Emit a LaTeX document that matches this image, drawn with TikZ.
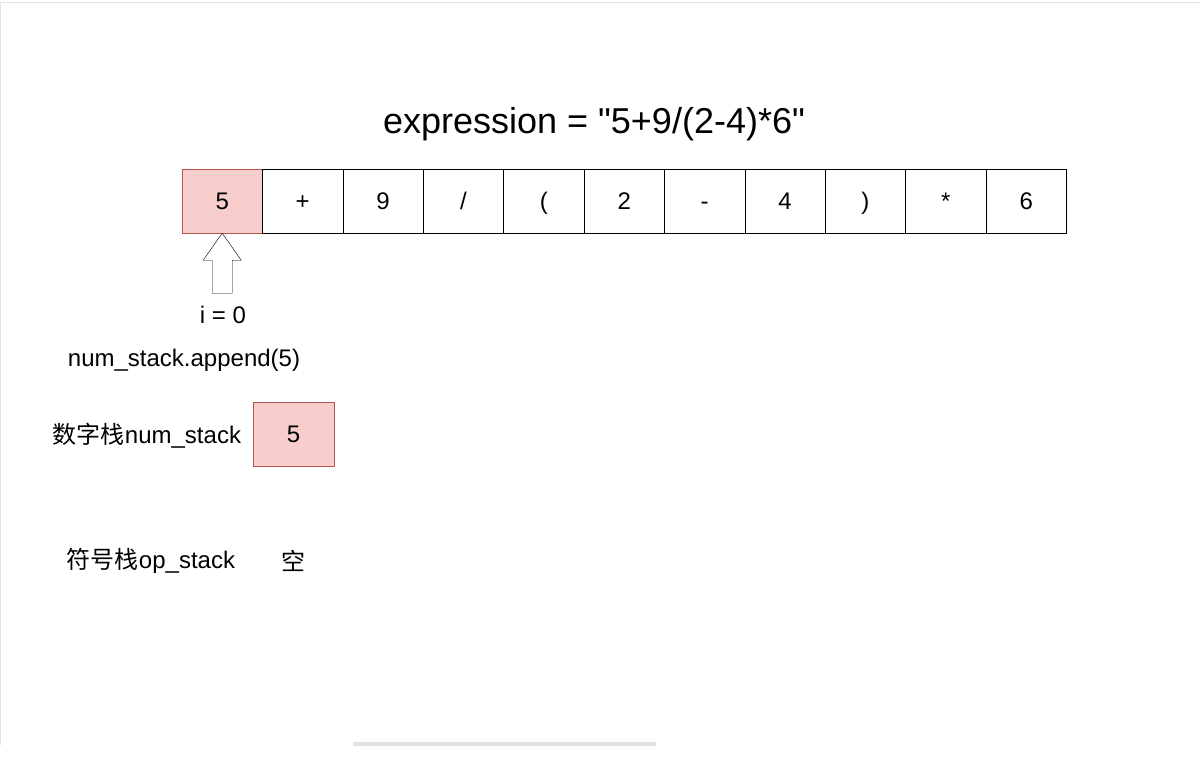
\documentclass[tikz,border=0pt]{standalone}
\usepackage{fontspec}
\setmainfont{Liberation Sans}[Ligatures=TeXOff]
\newfontfamily\cjk{Noto Sans CJK SC}
\definecolor{cellred}{HTML}{F8CECC}
\definecolor{edgered}{HTML}{B85450}
\definecolor{framegray}{HTML}{E2E2E2}

\begin{document}
\begin{tikzpicture}[x=1pt,y=-1pt,font=\fontsize{24}{28}\selectfont]
  \tikzset{cell/.style={draw,minimum width=80.4pt,minimum height=64pt,inner sep=0pt,
                        text height=17pt,text depth=0pt},
           hot/.style={cell,fill=cellred,draw=edgered}}
  \useasboundingbox (0,0) rectangle (1200,763);
  % window frame of the screenshot
  \draw[framegray] (0,2) -- (1200,2);
  \draw[framegray] (0.5,2) -- (0.5,745);
  \fill[framegray] (353,742) rectangle (656,746);
  \node (title) at (594,124) {\fontsize{36}{40}\selectfont expression = "5+9/(2-4)*6"};
  \node[hot]  (c0)  at (222.2,201) {5};
  \node[cell] (c1)  at (302.6,201) {+};
  \node[cell] (c2)  at (383.0,201) {9};
  \node[cell] (c3)  at (463.4,201) {/};
  \node[cell] (c4)  at (543.8,201) {(};
  \node[cell] (c5)  at (624.2,201) {2};
  \node[cell] (c6)  at (704.6,201) {-};
  \node[cell] (c7)  at (785.0,201) {4};
  \node[cell] (c8)  at (865.4,201) {)};
  \node[cell] (c9)  at (945.8,201) {*};
  \node[cell] (c10) at (1026.2,201) {6};
  % pointer arrow under the first cell
  \coordinate (tip) at (c0.south);
  \draw[fill=white] (tip) -- ++(19,27) -- ++(-9,0) -- ++(0,33) -- ++(-20,0)
    -- ++(0,-33) -- ++(-9,0) -- cycle;
  \node (idx) at (223,315) {i = 0};
  \node (op) at (184,360) {num\_stack.append(5)};
  \node (numlbl) at (147,436) {{\cjk 数字栈}num\_stack};
  \node[hot] (n0) at (293.5,434) {5};
  \node (oplbl) at (151,561) {{\cjk 符号栈}op\_stack};
  \node (empty) at (293,561) {\cjk 空};
\end{tikzpicture}
\end{document}
